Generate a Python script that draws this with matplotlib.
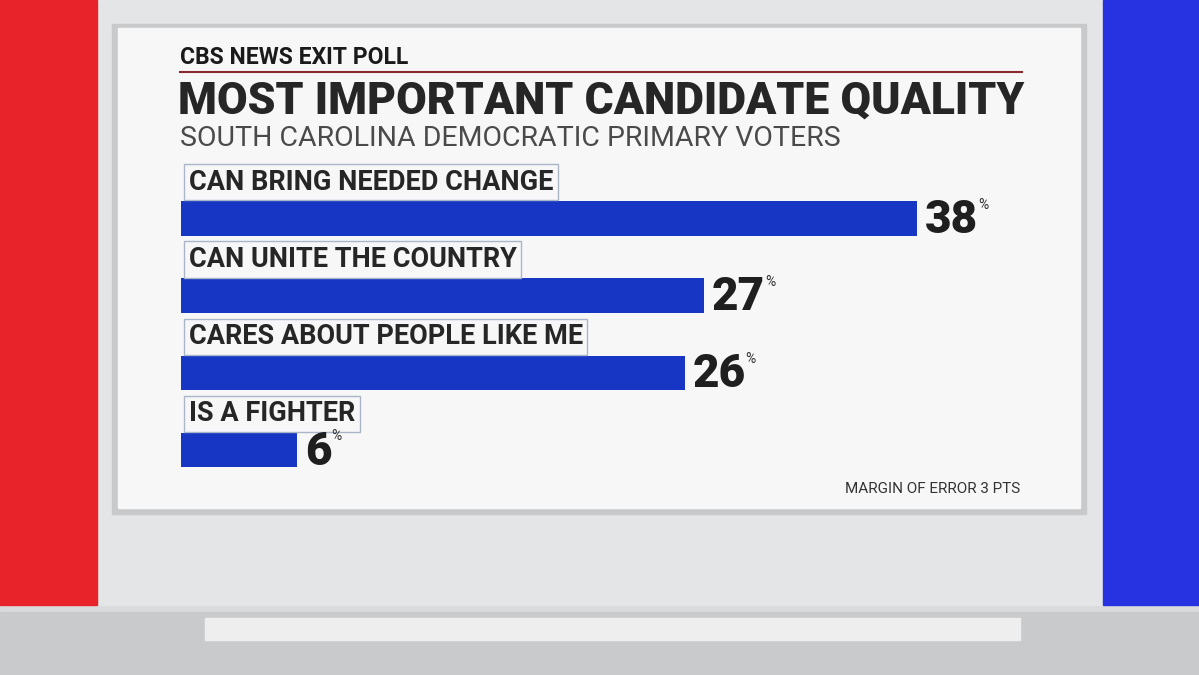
import matplotlib.pyplot as plt
from matplotlib.patches import Rectangle

categories = ['CAN BRING NEEDED CHANGE', 'CAN UNITE THE COUNTRY',
              'CARES ABOUT PEOPLE LIKE ME', 'IS A FIGHTER']
values = [38, 27, 26, 6]

W, H = 1199, 675
fig = plt.figure(figsize=(W / 100, H / 100), dpi=100)
fig.patch.set_facecolor('#d9dadc')

# background in pixel coords
bg = fig.add_axes([0, 0, 1, 1])
bg.set_xlim(0, W)
bg.set_ylim(H, 0)
bg.axis('off')
bg.add_patch(Rectangle((0, 0), W, 605, color='#e4e5e7'))
bg.add_patch(Rectangle((0, 0), 97, 605, color='#e8242a'))
bg.add_patch(Rectangle((1103, 0), 96, 605, color='#2733e0'))
bg.add_patch(Rectangle((0, 612), W, 63, color='#c9cacc'))
bg.add_patch(Rectangle((205, 618), 815, 22, color='#eeeeef'))
bg.add_patch(Rectangle((112, 24), 974, 490, color='#c8c9cb'))
bg.add_patch(Rectangle((118, 28), 962, 480, color='#f7f7f8'))

font = 'Roboto'
bg.text(180, 57, 'CBS NEWS EXIT POLL', fontsize=16.5, fontweight='bold',
        family=font, color='#1a1a1a', va='center')
bg.plot([180, 1022], [72, 72], color='#8a2a30', lw=1.5)
bg.text(178, 102, 'MOST IMPORTANT CANDIDATE QUALITY', fontsize=32,
        fontweight='black', family=font, color='#262626', va='center')
bg.text(180, 139, 'SOUTH CAROLINA DEMOCRATIC PRIMARY VOTERS', fontsize=20.5,
        family=font, color='#4a4a4a', va='center')
bg.text(1020, 489, 'MARGIN OF ERROR 3 PTS', fontsize=11, family=font,
        color='#333333', va='center', ha='right')

# bar axes: x 181..1000 px, row centers at 218.5 + 77.2*i
px_per_pct = (917 - 181) / 38
ax = fig.add_axes([181 / W, 1 - 527.3 / H, (1000 - 181) / W, 386 / H])
ax.set_xlim(0, (1000 - 181) / px_per_pct)
ax.set_ylim(4, -1)
ax.axis('off')
ypos = list(range(len(values)))
ax.barh(ypos, values, height=0.45, color='#1736c4')
for y, v, c in zip(ypos, values, categories):
    ax.text(0.4, y - 0.47, c, fontsize=19.5, fontweight='bold', family=font,
            color='#262626', va='center', ha='left',
            bbox=dict(boxstyle='square,pad=0.17', fc='#f7f7f8', ec='#aab5c8', lw=1))
    t = ax.text(v + 0.4, y + 0.02, str(v), fontsize=33, fontweight='black',
                family=font, color='#1f1f1f', va='center', ha='left')
    ax.annotate('%', xy=(1, 0.85), xycoords=t, fontsize=10, family=font,
                color='#333333', va='center', ha='left')

fig.savefig('out.png', dpi=100)
